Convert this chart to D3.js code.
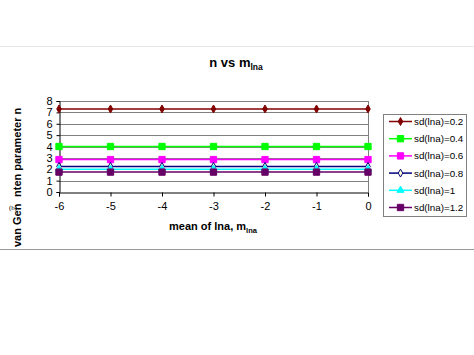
<!DOCTYPE html>
<html><head><meta charset="utf-8">
<script src="https://cdn.jsdelivr.net/npm/d3@7"></script>
<style>body{margin:0;background:#fff}svg{display:block;font-family:Arial,"Liberation Sans",sans-serif}</style>
</head><body>
<svg id="c" width="474" height="355"></svg>
<script>
const xValues = [-6, -5, -4, -3, -2, -1, 0];
const seriesNames = ["sd(lna)=0.2", "sd(lna)=0.4", "sd(lna)=0.6", "sd(lna)=0.8", "sd(lna)=1", "sd(lna)=1.2"];
const s02 = [7.3, 7.3, 7.3, 7.3, 7.3, 7.3, 7.3];
const s04 = [4.0, 4.0, 4.0, 4.0, 4.0, 4.0, 4.0];
const s06 = [2.85, 2.85, 2.85, 2.85, 2.85, 2.85, 2.85];
const s08 = [2.25, 2.25, 2.25, 2.25, 2.25, 2.25, 2.25];
const s10 = [2.0, 2.0, 2.0, 2.0, 2.0, 2.0, 2.0];
const s12 = [1.75, 1.75, 1.75, 1.75, 1.75, 1.75, 1.75];
const yTicks = [0, 1, 2, 3, 4, 5, 6, 7, 8];
const xTicks = [-6, -5, -4, -3, -2, -1, 0];

const seriesValues = [s02, s04, s06, s08, s10, s12];
const styles = [
  {color:"#800000", marker:"diamond", fill:"#800000", stroke:"#800000", size:18},
  {color:"#00ff00", marker:"square", fill:"#00ff00", stroke:"#00ff00", size:40},
  {color:"#ff00ff", marker:"square", fill:"#ff00ff", stroke:"#ff00ff", size:40},
  {color:"#000080", marker:"diamond", fill:"#ffffcc", stroke:"#000080", size:18},
  {color:"#00ffff", marker:"triangle", fill:"#00ffff", stroke:"#00ffff", size:22},
  {color:"#660066", marker:"square", fill:"#660066", stroke:"#660066", size:40}
];
const symMap = {diamond:d3.symbolDiamond, square:d3.symbolSquare, triangle:d3.symbolTriangle};

const svg = d3.select("#c");
const L = 59, R = 368, T = 101, B = 192;
const x = d3.scaleLinear().domain([-6, 0]).range([L, R]);
const y = d3.scaleLinear().domain([0, 8]).range([B, T]);

// frame lines
svg.append("line").attr("x1",0).attr("x2",474).attr("y1",46.5).attr("y2",46.5).attr("stroke","#e6e6e6").attr("stroke-width",1);
svg.append("line").attr("x1",0).attr("x2",474).attr("y1",249.5).attr("y2",249.5).attr("stroke","#999").attr("stroke-width",1);

// gridlines
svg.append("g").selectAll("line").data(yTicks.filter(d=>d>0)).join("line")
  .attr("x1",L).attr("x2",R).attr("y1",d=>Math.round(y(d))+0.5).attr("y2",d=>Math.round(y(d))+0.5)
  .attr("stroke","#808080").attr("stroke-width",1);
// right border
svg.append("line").attr("x1",R+0.5).attr("x2",R+0.5).attr("y1",T).attr("y2",B).attr("stroke","#808080");

// axes
const fmt = d => String(d);
const yAxis = d3.axisLeft(y).tickValues(yTicks).tickFormat(fmt).tickSize(3).tickPadding(4);
const gy = svg.append("g").attr("transform",`translate(${L+0.5},0)`).call(yAxis);
const xAxis = d3.axisBottom(x).tickValues(xTicks).tickFormat(fmt).tickSize(4).tickPadding(6);
const gx = svg.append("g").attr("transform",`translate(0,${B+0.5})`).call(xAxis);
[gx, gy].forEach(g=>{
  g.select(".domain").attr("stroke","#000");
  g.selectAll(".tick line").attr("stroke","#000");
  g.selectAll("text").attr("font-size",11).attr("fill","#000").attr("font-family","Arial, 'Liberation Sans', sans-serif");
});

// series
const line = d3.line().x((d,i)=>x(xValues[i])).y(d=>y(d));
seriesValues.forEach((vals, k)=>{
  const st = styles[k];
  svg.append("path").datum(vals).attr("d",line).attr("fill","none").attr("stroke",st.color).attr("stroke-width",1.5);
  svg.append("g").selectAll("path").data(vals).join("path")
    .attr("transform",(d,i)=>`translate(${x(xValues[i])},${y(d)})`)
    .attr("d",d3.symbol().type(symMap[st.marker]).size(st.size))
    .attr("fill",st.fill).attr("stroke",st.stroke).attr("stroke-width",1);
});

// title
const title = svg.append("text").attr("x",236).attr("y",67).attr("text-anchor","middle")
  .attr("font-size",13).attr("font-weight","bold").attr("fill","#000");
title.append("tspan").text("n vs m");
title.append("tspan").attr("font-size",8.5).attr("dy",3).text("lna");

// x label
const xl = svg.append("text").attr("x",213).attr("y",230).attr("text-anchor","middle")
  .attr("font-size",11).attr("font-weight","bold").attr("fill","#000");
xl.append("tspan").text("mean of lna, m");
xl.append("tspan").attr("font-size",7.5).attr("dy",3).text("lna");

// y label (partly hidden in original)
svg.append("text").attr("transform","translate(21,197) rotate(-90)").attr("text-anchor","start")
  .attr("font-size",11).attr("font-weight","bold").attr("fill","#000").text("nten parameter n");
svg.append("text").attr("transform","translate(21,247) rotate(-90)").attr("text-anchor","start")
  .attr("font-size",11).attr("font-weight","bold").attr("fill","#000").text("van Gen");
svg.append("text").attr("x",9).attr("y",210).attr("font-size",7).attr("font-family","'Liberation Serif', serif").attr("fill","#000").text("(b)");

// legend
const lg = svg.append("g");
lg.append("rect").attr("x",383.5).attr("y",114.5).attr("width",83).attr("height",102)
  .attr("fill","#fff").attr("stroke","#808080");
seriesNames.forEach((name,k)=>{
  const st = styles[k];
  const yy = 121.5 + k*17.2;
  lg.append("line").attr("x1",389).attr("x2",412).attr("y1",yy).attr("y2",yy).attr("stroke",st.color).attr("stroke-width",1.5);
  lg.append("path").attr("transform",`translate(400.5,${yy})`)
    .attr("d",d3.symbol().type(symMap[st.marker]).size(st.size))
    .attr("fill",st.fill).attr("stroke",st.stroke);
  lg.append("text").attr("x",414).attr("y",yy+3.5).attr("font-size",9.8).attr("fill","#000").text(name);
});
</script>
</body></html>
